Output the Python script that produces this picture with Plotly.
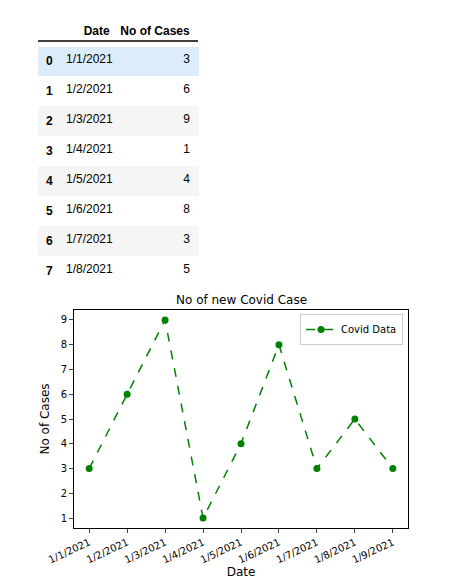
import plotly.graph_objects as go

index = [0, 1, 2, 3, 4, 5, 6, 7, 8]
dates = ["1/1/2021", "1/2/2021", "1/3/2021", "1/4/2021", "1/5/2021",
         "1/6/2021", "1/7/2021", "1/8/2021", "1/9/2021"]
cases = [3, 6, 9, 1, 4, 8, 3, 5, 3]

W, H = 449, 583
def py(p):
    return 1 - p / H

row_colors = []
for i in range(len(index)):
    if i == 0:
        row_colors.append("#dcecfa")
    elif i % 2 == 0:
        row_colors.append("#f5f5f5")
    else:
        row_colors.append("#ffffff")

fig = go.Figure()
fig.add_trace(go.Table(
    domain=dict(x=[30 / W, 190 / W], y=[py(272), py(8)]),
    columnwidth=[20, 60, 80],
    header=dict(values=["", "<b>Date</b>", "<b>No\u00a0of\u00a0Cases</b>"],
                align=["left", "right", "right"],
                fill_color="white", line_color="white", height=25,
                font=dict(family="Arial", size=12, color="black")),
    cells=dict(values=[["<b>%d</b>" % i for i in index], dates, cases],
               align=["left", "left", "right"],
               fill_color=[row_colors] * 3, line_color=[row_colors] * 3, height=22,
               font=dict(family="Arial", size=12, color="black")),
))
fig.add_shape(type="line", xref="paper", yref="paper",
              x0=30 / W, x1=190 / W, y0=py(33), y1=py(33),
              line=dict(color="black", width=1.5))

fig.add_trace(go.Scatter(
    x=dates, y=cases, mode="lines+markers", name="Covid Data",
    line=dict(color="green", dash="dash", width=1.5),
    marker=dict(color="green", size=7),
))

fig.update_layout(
    width=W, height=H, autosize=False,
    margin=dict(l=0, r=0, t=0, b=0),
    paper_bgcolor="white", plot_bgcolor="white",
    font=dict(family="DejaVu Sans", size=10, color="black"),
    xaxis=dict(domain=[66 / W, 400 / W], range=[-0.4, 8.4], showline=True, mirror=True,
               linecolor="black", linewidth=1, ticks="outside", ticklen=4,
               tickangle=-25, showgrid=False,
               title=dict(text="Date", standoff=0), automargin=False),
    yaxis=dict(domain=[py(520), py(302)], range=[0.6, 9.4], showline=True, mirror=True,
               linecolor="black", linewidth=1, ticks="outside", ticklen=4,
               dtick=1, showgrid=False, zeroline=False,
               title=dict(text="No of Cases", standoff=8), automargin=False),
    showlegend=True,
    legend=dict(x=395 / W, xanchor="right", y=py(306), yanchor="top",
                bordercolor="#cccccc", borderwidth=1, bgcolor="white",
                font=dict(size=10)),
    annotations=[dict(text="No of new Covid Case", xref="paper", yref="paper",
                      x=233 / W, y=py(292), showarrow=False,
                      font=dict(size=12, family="DejaVu Sans"))],
)

fig.write_html("out.html")
